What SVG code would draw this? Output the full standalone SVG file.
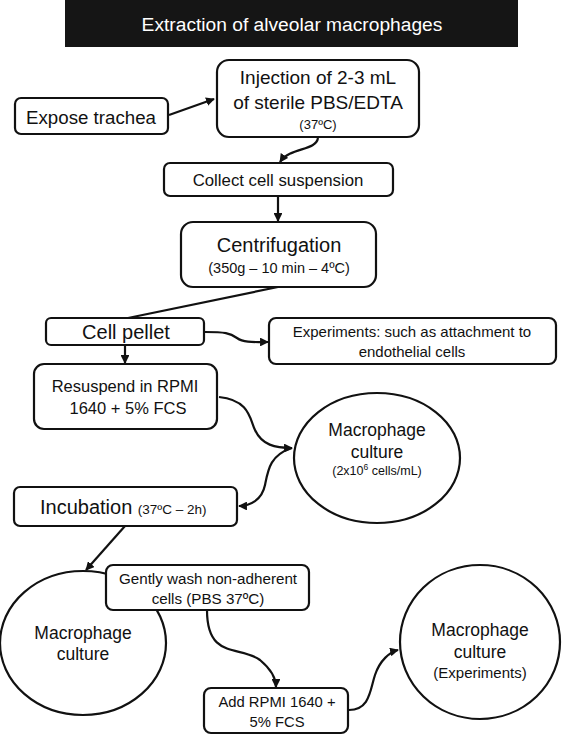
<svg xmlns="http://www.w3.org/2000/svg" width="562" height="735" viewBox="0 0 562 735">
<defs>
<style>
text{font-family:"Liberation Sans",Arial,sans-serif;fill:#111;text-anchor:middle}
.box{fill:#fff;stroke:#111;stroke-width:2.2}
.c{fill:none;stroke:#111;stroke-width:2.2}
.a{marker-end:url(#ah)}
</style>
<marker id="ah" viewBox="0 0 10 10" refX="9" refY="5" markerWidth="4" markerHeight="4" orient="auto" markerUnits="strokeWidth">
<path d="M0,0 L10,5 L0,10 z" fill="#111"/>
</marker>
</defs>
<rect width="562" height="735" fill="#fff"/>
<g id="title">
<rect x="65" y="0" width="453" height="47" fill="#151515"/>
<text x="292" y="31" font-size="19.2" style="fill:#fff">Extraction of alveolar macrophages</text>
</g>
<g id="connectors">
<path class="c a" d="M169,115 L214,99"/>
<path class="c a" d="M318,138 C316,151 290,147 280,162"/>
<path class="c a" d="M278,196 L278,221"/>
<path class="c" d="M278,287 L128,318"/>
<path class="c a" d="M205,332 C225,332 230,333 237,338 C244,343 255,342 268,342"/>
<path class="c a" d="M125,345 L125,363"/>
<path class="c a" d="M219,397 C250,400 250,420 255,430 C262,445 275,448 292,448"/>
<path class="c a" d="M292,448 C270,455 268,470 265,485 C262,500 250,506 239,506"/>
<path class="c a" d="M125,526 L86,570"/>
<path class="c a" d="M207,610 C207,660 240,645 260,660 C272,670 276,680 276,687"/>
<path class="c a" d="M349,710 C370,710 370,690 375,675 C380,660 390,652 398,650"/>
</g>
<g id="expose">
<rect class="box" x="15" y="98" width="153" height="36" rx="6"/>
<text x="91" y="124" font-size="18.7">Expose trachea</text>
</g>
<g id="injection">
<rect class="box" x="217" y="60" width="202" height="77" rx="12"/>
<text x="318" y="84" font-size="19">Injection of 2-3 mL</text>
<text x="318" y="109" font-size="19">of sterile PBS/EDTA</text>
<text x="318" y="129" font-size="13">(37ºC)</text>
</g>
<g id="collect">
<rect class="box" x="164" y="163" width="229" height="33" rx="6"/>
<text x="278" y="186" font-size="16.8">Collect cell suspension</text>
</g>
<g id="centrifugation">
<rect class="box" x="181" y="222" width="195" height="65" rx="12"/>
<text x="279" y="252" font-size="20">Centrifugation</text>
<text x="279" y="273" font-size="14.5">(350g – 10 min – 4ºC)</text>
</g>
<g id="pellet">
<rect class="box" x="46" y="318" width="158" height="27" rx="5"/>
<text x="126" y="339" font-size="20">Cell pellet</text>
</g>
<g id="experiments">
<rect class="box" x="269" y="318" width="287" height="46" rx="7"/>
<text x="412" y="337" font-size="15">Experiments: such as attachment to</text>
<text x="412" y="357" font-size="15">endothelial cells</text>
</g>
<g id="resuspend">
<rect class="box" x="34" y="364" width="183" height="65" rx="10"/>
<text x="125" y="392" font-size="16.5">Resuspend in RPMI</text>
<text x="128" y="414" font-size="16.5">1640 + 5% FCS</text>
</g>
<g id="culture1">
<ellipse class="box" cx="377" cy="458" rx="83" ry="65"/>
<text x="377" y="436" font-size="17.5">Macrophage</text>
<text x="377" y="458" font-size="17.5">culture</text>
<text x="377" y="475" font-size="12.5">(2x10<tspan font-size="8.5" dy="-5">6</tspan><tspan dy="5"> cells/mL)</tspan></text>
</g>
<g id="incubation">
<rect class="box" x="14" y="487" width="223" height="39" rx="6"/>
<text x="40" y="514" font-size="20" style="text-anchor:start">Incubation <tspan font-size="13.5">(37ºC – 2h)</tspan></text>
</g>
<g id="culture2">
<ellipse class="box" cx="83" cy="643" rx="83" ry="72"/>
<text x="83" y="639" font-size="17.5">Macrophage</text>
<text x="83" y="660" font-size="17.5">culture</text>
</g>
<g id="wash">
<rect class="box" x="106" y="565" width="203" height="45" rx="7"/>
<text x="208" y="584" font-size="15.2">Gently wash non-adherent</text>
<text x="208" y="604" font-size="15.2">cells (PBS 37ºC)</text>
</g>
<g id="addrpmi">
<rect class="box" x="204" y="688" width="144" height="45" rx="7"/>
<text x="277" y="707" font-size="14.8">Add RPMI 1640 +</text>
<text x="277" y="727" font-size="14.8">5% FCS</text>
</g>
<g id="culture3">
<ellipse class="box" cx="480" cy="642" rx="80" ry="77"/>
<text x="480" y="636" font-size="17.5">Macrophage</text>
<text x="480" y="658" font-size="17.5">culture</text>
<text x="480" y="678" font-size="15">(Experiments)</text>
</g>
</svg>
